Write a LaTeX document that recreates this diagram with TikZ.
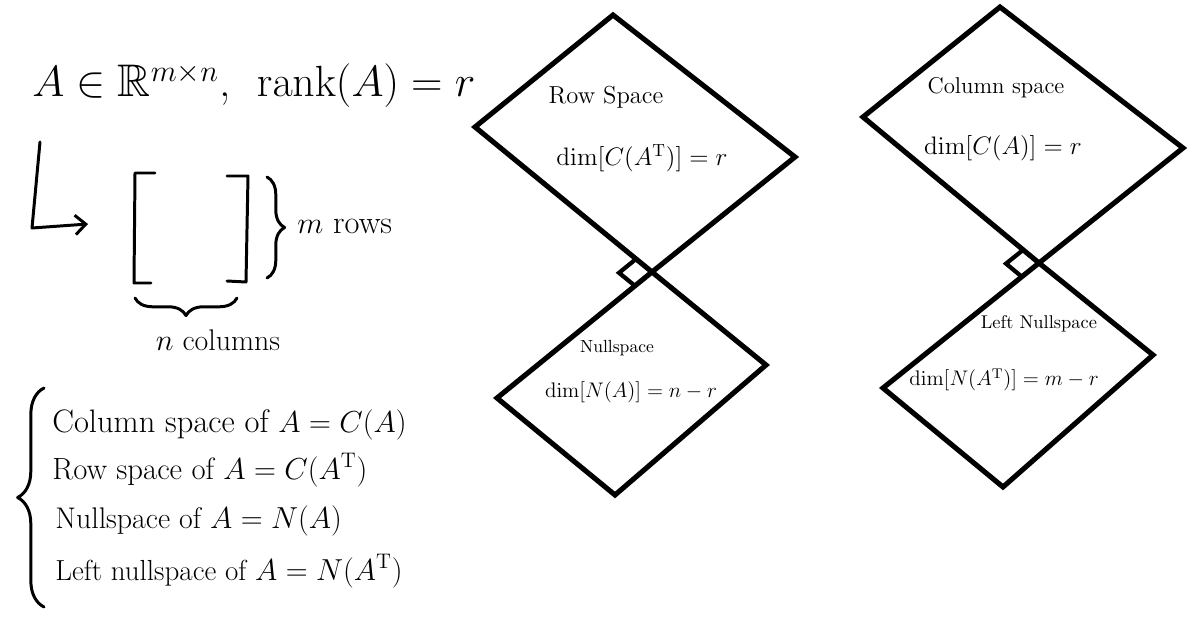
\documentclass[tikz,border=0pt]{standalone}
\usepackage{tikz}
\usetikzlibrary{arrows.meta,positioning,calc,decorations.pathreplacing}
\usepackage{xcolor}
\usepackage{amsmath}
\usepackage{amssymb}
\definecolor{Pen}{HTML}{000000}

\begin{document}
\begin{tikzpicture}[x=0.02cm,y=-0.02cm,
  hand/.style={text=Pen,inner sep=0pt},
  quad/.style={draw=Pen,line width=2.9pt,line join=miter},
  pen/.style={draw=Pen,line width=1.7pt,line cap=round,line join=round},
  curly/.style={pen,decorate,decoration={brace,amplitude=#1}}]
\useasboundingbox (0,0) rectangle (1200,618);
\node[hand,anchor=base west,font=\fontsize{26}{30}\selectfont] (def) at (32,97) {$A\in\mathbb{R}^{m\times n}$,\; $\operatorname{rank}(A)=r$};
\coordinate (hooktop) at (40,142);
\coordinate (hookbend) at (32,228);
\coordinate (hookend) at (88,224);
\draw[pen,-{Straight Barb[length=6pt,width=11pt]}] (hooktop) -- (hookbend) -- (hookend);
\draw[pen] (155,173) -- (135,173) -- (134,283) -- (151,283);
\draw[pen] (227,176) -- (248,176) -- (246,282) -- (227,281);
\draw[curly=10pt] (267,177) -- (267,278);
\draw[curly=10pt] (237,298) -- (135,298);
\node[hand,anchor=west,font=\fontsize{18.5}{22}\selectfont] (mrows) at (297,226) {$m$ rows};
\node[hand,font=\fontsize{17}{20}\selectfont] (ncols) at (218,340) {$n$ columns};
\draw[curly=15pt] (44,607) -- (44,388);
\node[hand,anchor=base west,font=\fontsize{18.5}{22}\selectfont] (colsp) at (52,432) {Column space of $A=C(A)$};
\node[hand,anchor=base west,font=\fontsize{17.5}{22}\selectfont] (rowsp) at (52,479) {Row space of $A=C(A^{\mathrm{T}})$};
\node[hand,anchor=base west,font=\fontsize{17}{22}\selectfont] (nullsp) at (55,528) {Nullspace of $A=N(A)$};
\node[hand,anchor=base west,font=\fontsize{16.5}{22}\selectfont] (lnullsp) at (55,580) {Left nullspace of $A=N(A^{\mathrm{T}})$};
\coordinate (rsT) at (613,15);
\coordinate (rsR) at (795,157);
\coordinate (rsB) at (652,272);
\coordinate (rsL) at (475,127);
\coordinate (nsR) at (766,365);
\coordinate (nsD) at (615,495);
\coordinate (nsL) at (497,398);
\draw[quad] (rsT) -- (rsR) -- (rsB) -- (rsL) -- cycle;
\draw[quad] (rsB) -- (nsR) -- (nsD) -- (nsL) -- cycle;
\coordinate (rsa) at ($(rsB)!0.09!(rsL)$);
\coordinate (rsb) at ($(rsB)!0.11!(nsL)$);
\draw[pen,line width=2.4pt,line cap=butt,line join=miter] (rsa) -- ($(rsa)+(rsb)-(rsB)$) -- (rsb);
\coordinate (csT) at (1000,7);
\coordinate (csR) at (1183,148);
\coordinate (csB) at (1039,263);
\coordinate (csL) at (863,117);
\coordinate (lnR) at (1153,355);
\coordinate (lnD) at (1003,487);
\coordinate (lnL) at (883,388);
\draw[quad] (csT) -- (csR) -- (csB) -- (csL) -- cycle;
\draw[quad] (csB) -- (lnR) -- (lnD) -- (lnL) -- cycle;
\coordinate (csa) at ($(csB)!0.09!(csL)$);
\coordinate (csb) at ($(csB)!0.11!(lnL)$);
\draw[pen,line width=2.4pt,line cap=butt,line join=miter] (csa) -- ($(csa)+(csb)-(csB)$) -- (csb);
\node[hand,font=\fontsize{14}{16}\selectfont] (rowname) at (606,97) {Row Space};
\node[hand,font=\fontsize{14}{16}\selectfont] (rowdim) at (642,158) {$\dim[C(A^{\mathrm{T}})]=r$};
\node[hand,font=\fontsize{10}{12}\selectfont] (nullname) at (617,348) {Nullspace};
\node[hand,font=\fontsize{11.5}{14}\selectfont] (nulldim) at (631,392) {$\dim[N(A)]=n-r$};
\node[hand,font=\fontsize{13}{16}\selectfont] (colname) at (996,88) {Column space};
\node[hand,font=\fontsize{14}{16}\selectfont] (coldim) at (1003,148) {$\dim[C(A)]=r$};
\node[hand,font=\fontsize{10.5}{12}\selectfont] (lnullname) at (1039,324) {Left Nullspace};
\node[hand,font=\fontsize{11.5}{14}\selectfont] (lnulldim) at (1004,380) {$\dim[N(A^{\mathrm{T}})]=m-r$};
\end{tikzpicture}
\end{document}
